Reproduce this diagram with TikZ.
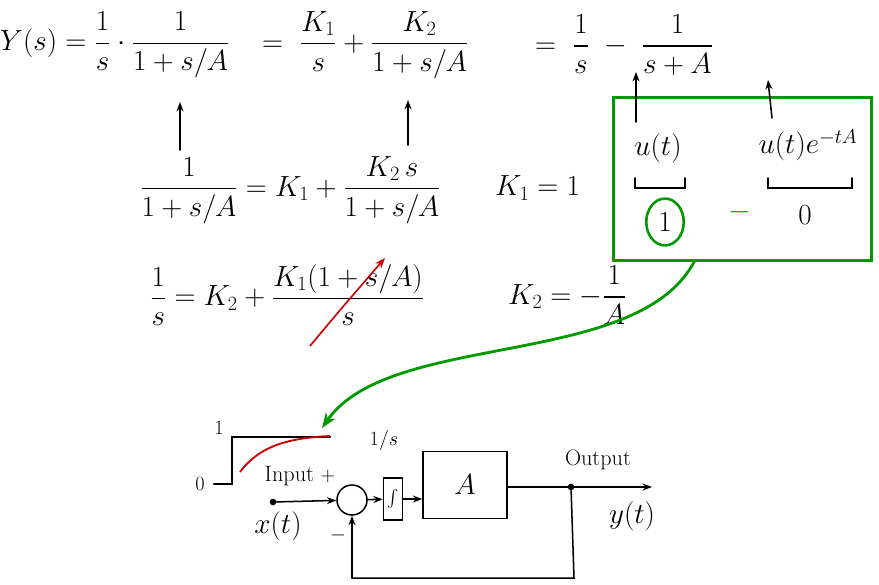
\documentclass[tikz,border=0pt]{standalone}
\usepackage{amsmath}
\usetikzlibrary{arrows.meta}
\begin{document}
\begin{tikzpicture}[x=0.03cm,y=-0.03cm,
 eq/.style={font=\fontsize{24}{28}\selectfont,inner sep=0pt},
 sm/.style={font=\fontsize{19}{22}\selectfont,inner sep=0pt},
 ln/.style={line width=1.3pt,line cap=round},
 arr/.style={ln,-{Stealth[length=8pt]}},
 grn/.style={draw=green!60!black,line width=2.2pt}]
\fill[white] (0,0) rectangle (879,584);
\useasboundingbox (0,0) rectangle (879,584);
% top row
\node[eq,anchor=west] (y1) at (0,45) {$Y(s)=\dfrac{1}{s}\cdot\dfrac{1}{1+s/A}$};
\node[eq,anchor=west] (y2) at (262,45) {$=\ \dfrac{K_1}{s}+\dfrac{K_2}{1+s/A}$};
\node[eq,anchor=west] (y3) at (535,45) {$=\ \dfrac{1}{s}\ -\ \dfrac{1}{s+A}$};
\coordinate (a1s) at (180,150); \coordinate (a1e) at (180,102);
\coordinate (a2s) at (408,145); \coordinate (a2e) at (408,100);
\draw[arr] (a1s) -- (a1e);
\draw[arr] (a2s) -- (a2e);
% middle
\node[eq,anchor=west] (m1) at (140,190) {$\dfrac{1}{1+s/A}=K_1+\dfrac{K_2\,s}{1+s/A}$};
\node[eq,anchor=west] (k1) at (495,188) {$K_1=1$};
\node[eq,anchor=west] (m2) at (150,295) {$\dfrac{1}{s}=K_2+\dfrac{K_1(1+s/A)}{s}$};
\node[eq,anchor=west] (k2) at (508,295) {$K_2=-\dfrac{1}{A}$};
\coordinate (r1) at (310,346); \coordinate (r2) at (385,258);
\draw[red!80!black,line width=1.4pt,-{Stealth[length=9pt]}] (r1) .. controls (340,310) .. (r2);
% green box
\node[grn,draw,minimum width=258*0.03cm,minimum height=163*0.03cm,anchor=north west] (gb) at (612,96) {};
\node[eq] (u1) at (658,148) {$u(t)$};
\node[eq] (u2) at (808,145) {$u(t)e^{-tA}$};
\draw[ln] (635,178) -- (635,188) -- (685,188) -- (685,178);
\draw[ln] (768,178) -- (768,188) -- (852,188) -- (852,178);
\node[eq] (one) at (665,222) {$1$};
\draw[grn] (one) ellipse (16pt and 20pt);
\node[eq,text=green!60!black] (dash) at (740,212) {$-$};
\node[eq] (zero) at (805,215) {$0$};
\coordinate (g1) at (636,122); \coordinate (g2) at (636,72);
\coordinate (g3) at (772,118); \coordinate (g4) at (768,80);
\draw[arr] (g1) -- (g2);
\draw[arr] (g3) -- (g4);
\coordinate (c1) at (695,260); \coordinate (c2) at (322,428);
\draw[green!60!black,line width=2.4pt,-{Stealth[length=13pt]}] (c1) .. controls (640,370) and (390,330) .. (c2);
% step plot
\node[sm] (z) at (200,484) {$0$};
\node[sm] (o) at (219,428) {$1$};
\draw[ln,line width=1.8pt] (214,484) -- (232,484) -- (232,437) -- (330,437);
\draw[red!80!black,line width=1.6pt] (240,472) .. controls (260,445) and (290,438) .. (330,436);
% block diagram
\node[circle,fill,inner sep=2pt] (in) at (273,502) {};
\node[draw,circle,line width=1.3pt,minimum size=30*0.03cm] (sum) at (352,500) {};
\node[draw,line width=1.3pt,minimum width=18*0.03cm,minimum height=42*0.03cm] (int) at (393,499) {\Large$\int$};
\node[draw,line width=1.3pt,minimum width=84*0.03cm,minimum height=67*0.03cm,eq] (A) at (465,485) {$A$};
\node[circle,fill,inner sep=2pt] (out) at (571,487) {};
\coordinate (end) at (652,487);
\coordinate (fb1) at (574,578); \coordinate (fb2) at (352,578);
\draw[arr] (in) -- (sum);
\draw[arr] (sum) -- (int);
\draw[arr] (int) -- (int -| A.west);
\draw[arr] (A.east |- out) -- (end);
\draw[ln] (out) -- (fb1) -- (fb2);
\draw[arr] (fb2) -- (sum.south);
\node[sm] (lin) at (300,476) {Input $+$};
\node[eq] (lx) at (278,526) {$x(t)$};
\node[sm] (lm) at (338,535) {$-$};
\node[sm] (ls) at (384,440) {$1/s$};
\node[sm] (lo) at (598,460) {Output};
\node[eq] (ly) at (632,516) {$y(t)$};
\end{tikzpicture}
\end{document}
